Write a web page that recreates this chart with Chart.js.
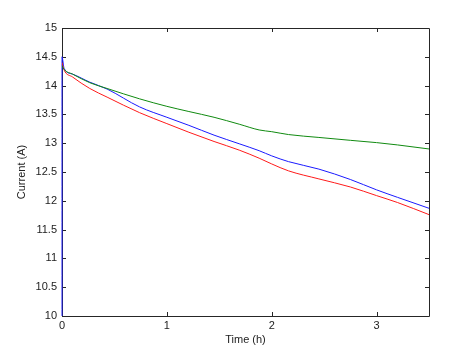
<!DOCTYPE html>
<html>
<head>
<meta charset="utf-8">
<script src="https://cdn.jsdelivr.net/npm/chart.js@4.4.1/dist/chart.umd.min.js"></script>
<style>
  html, body { margin: 0; padding: 0; background: #fff; }
  #wrap { width: 474px; height: 355px; }
</style>
</head>
<body>
<div id="wrap"><canvas id="current"></canvas></div>
<script>
// ---------------- data ----------------
const timeH = [0, 0.02, 0.1, 0.265, 0.43, 0.74, 1.0, 1.21, 1.45, 1.69, 1.88, 2.0, 2.16, 2.45, 2.75, 3.0, 3.2, 3.5];
const greenA = [14.35, 14.28, 14.2, 14.05, 13.95, 13.77, 13.64, 13.55, 13.45, 13.33, 13.23, 13.2, 13.15, 13.1, 13.05, 13.01, 12.97, 12.9];
const blueA  = [14.5, 14.3, 14.2, 14.06, 13.94, 13.63, 13.45, 13.31, 13.14, 12.99, 12.87, 12.78, 12.68, 12.55, 12.37, 12.19, 12.06, 11.87];
const redA   = [14.4, 14.27, 14.15, 13.95, 13.8, 13.53, 13.34, 13.19, 13.03, 12.88, 12.74, 12.64, 12.52, 12.38, 12.24, 12.09, 11.97, 11.76];
const blueStart = { x: 0, y: 10 };   // blue trace rises from the bottom at t = 0
const xTicks = [0, 1, 2, 3];
const yTicks = [10, 10.5, 11, 11.5, 12, 12.5, 13, 13.5, 14, 14.5, 15];

function pts(vals) {
    return timeH.map((t, i) => ({ x: t, y: vals[i] }));
}

const fontFam = '"Liberation Sans", Arial, sans-serif';

// matlab style box with inward ticks on all sides (drawn under the traces)
const boxPlugin = {
    id: 'box',
    beforeDatasetsDraw(chart) {
        const { ctx, chartArea: a, scales } = chart;
        ctx.save();
        ctx.strokeStyle = '#262626';
        ctx.lineWidth = 1;
        ctx.beginPath();
        ctx.rect(Math.round(a.left) + 0.5, Math.round(a.top) + 0.5,
                 Math.round(a.right - a.left), Math.round(a.bottom - a.top));
        ctx.stroke();
        const len = 4;
        ctx.beginPath();
        xTicks.forEach(v => {
            const px = Math.round(scales.x.getPixelForValue(v)) + 0.5;
            ctx.moveTo(px, a.bottom); ctx.lineTo(px, a.bottom - len);
            ctx.moveTo(px, a.top); ctx.lineTo(px, a.top + len);
        });
        yTicks.forEach(v => {
            const py = Math.round(scales.y.getPixelForValue(v)) + 0.5;
            ctx.moveTo(a.left, py); ctx.lineTo(a.left + len, py);
            ctx.moveTo(a.right, py); ctx.lineTo(a.right - len, py);
        });
        ctx.stroke();
        ctx.restore();
    }
};

new Chart(document.getElementById('current'), {
    type: 'line',
    data: {
        datasets: [
            { label: 'green', data: pts(greenA), borderColor: '#108a10' },
            { label: 'red', data: pts(redA), borderColor: '#ff1a1a' },
            { label: 'blue', data: [blueStart].concat(pts(blueA)), borderColor: '#1a1aff', clip: 2 }
        ]
    },
    options: {
        responsive: true,
        maintainAspectRatio: false,
        animation: false,
        layout: { padding: { top: 28, right: 45, left: 0, bottom: 0 } },
        elements: {
            line: { borderWidth: 1, cubicInterpolationMode: 'monotone', fill: false },
            point: { radius: 0 }
        },
        plugins: { legend: { display: false }, tooltip: { enabled: false } },
        scales: {
            x: {
                type: 'linear',
                min: 0, max: 3.5,
                grid: { display: false, tickLength: 0 },
                border: { display: false },
                afterBuildTicks: s => { s.ticks = xTicks.map(v => ({ value: v })); },
                afterFit: s => { s.height = 39; },
                ticks: { color: '#222', padding: 3, maxRotation: 0, font: { family: fontFam, size: 11 },
                         callback: v => String(v) },
                title: { display: true, text: 'Time (h)', color: '#222', padding: { top: 0, bottom: 8 },
                         font: { family: fontFam, size: 11 } }
            },
            y: {
                min: 10, max: 15,
                grid: { display: false, tickLength: 0 },
                border: { display: false },
                afterBuildTicks: s => { s.ticks = yTicks.map(v => ({ value: v })); },
                afterFit: s => { s.width = 62; },
                ticks: { color: '#222', padding: 5, font: { family: fontFam, size: 11 },
                         callback: v => String(v) },
                title: { display: true, text: 'Current (A)', color: '#222', padding: { top: 15, bottom: 0 },
                         font: { family: fontFam, size: 11 } }
            }
        }
    },
    plugins: [boxPlugin]
});
</script>
</body>
</html>
